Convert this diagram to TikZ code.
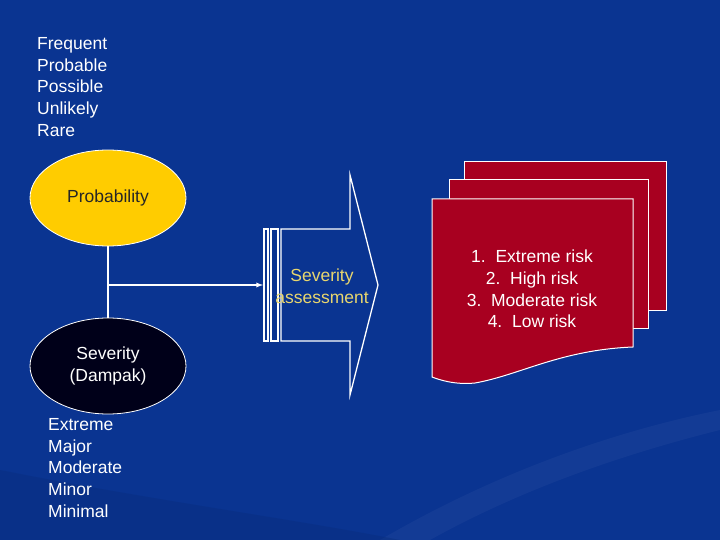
\documentclass[tikz,border=0pt]{standalone}
\usepackage{fontspec}
\setmainfont{Liberation Sans}
\usetikzlibrary{shapes.geometric}
\begin{document}
\begin{tikzpicture}[x=1pt,y=-1pt,
  fnt/.style={font=\fontsize{17.5}{21.8}\selectfont},
  lbl/.style={fnt,align=left,text=white,inner sep=0pt},
  ell/.style={ellipse,draw=white,line width=0.8pt,minimum width=156pt,minimum height=96pt,inner sep=0pt,fnt,align=center},
  doc/.style={fill=docred,draw=white,line width=1pt},
  wl/.style={draw=white,line width=1.3pt}]
\definecolor{bg}{RGB}{10,52,145}
\definecolor{docred}{RGB}{168,0,32}
\definecolor{gold}{RGB}{255,204,0}
\definecolor{ylw}{RGB}{232,214,110}
\useasboundingbox (0,0) rectangle (720,540);
\fill[bg] (0,0) rectangle (720,540);
\fill[bg!85!white,opacity=0.25] (380,540) .. controls (500,470) and (620,430) .. (720,410) -- (720,430) .. controls (620,455) and (520,490) .. (430,540) -- cycle;
\fill[bg!85!black,opacity=0.4] (0,470) .. controls (150,500) and (300,520) .. (400,540) -- (0,540) -- cycle;
% left lists
\node[lbl,anchor=north west] (freq) at (37,37) {Frequent\\Probable\\Possible\\Unlikely\\Rare};
\node[lbl,anchor=north west] (sev) at (48,418) {Extreme\\Major\\Moderate\\Minor\\Minimal};
% ellipses
\node[ell,fill=gold,text=black!85] (prob) at (108,198) {Probability};
\node[ell,fill=black!90!blue,text=white] (dam) at (108,366) {Severity\\(Dampak)};
% arrow shape
\draw[wl,fill=bg] (264,229) rectangle (268,341);
\draw[wl,fill=bg] (271,229) rectangle (278,341);
\draw[wl,fill=bg] (281,229) -- (350,229) -- (350,175) -- (378,285) -- (350,395) -- (350,341) -- (281,341) -- cycle;
\node[fnt,text=ylw,align=center,inner sep=0pt] (sa) at (322,286) {Severity\\assessment};
\coordinate (junc) at (108,285);
\coordinate (ain) at (263,285);
\draw[wl] (prob.south) -- (dam.north);
\draw[wl,-latex] (junc) -- (ain);
% documents
\draw[doc] (464,162) rectangle (666,310);
\draw[doc] (449,180) rectangle (648,328);
\draw[doc] (432,199) -- (633,199) -- (633,347) .. controls (560,350) and (520,375) .. (475,383) .. controls (455,385) and (440,380) .. (432,377) -- cycle;
\node[fnt,text=white,align=center,inner sep=0pt] (risk) at (532,289) {1.\ \ Extreme risk\\2.\ \ High risk\\3.\ \ Moderate risk\\4.\ \ Low risk};
\end{tikzpicture}
\end{document}
